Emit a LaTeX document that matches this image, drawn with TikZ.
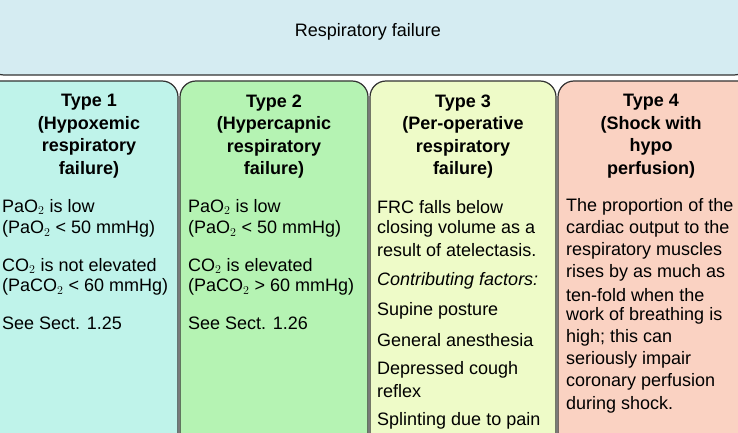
\documentclass[tikz,border=0pt]{standalone}
\usepackage{fontspec}
\setmainfont{Liberation Sans}
\definecolor{bann}{HTML}{D5ECF2}
\definecolor{c1}{HTML}{BFF3EA}
\definecolor{c2}{HTML}{B5F3B3}
\definecolor{c3}{HTML}{EEFBC8}
\definecolor{c4}{HTML}{FAD2C2}
\definecolor{edge}{HTML}{333333}
\begin{document}
\begin{tikzpicture}[x=1pt,y=-1pt,
  box/.style={draw=edge,line width=1.2pt,rounded corners=16pt},
  hd/.style={font=\fontsize{18}{22.5}\selectfont\bfseries,align=center,anchor=north},
  tx/.style={font=\fontsize{18}{20}\selectfont,anchor=west,inner sep=0pt}]
\useasboundingbox (0,0) rectangle (738,433);
\clip (0,0) rectangle (738,433);
\draw[box,fill=bann] (-12,-30) rectangle (750,75);
\node (rf) at (368,32) {\fontsize{18}{20}\selectfont Respiratory failure};
\draw[box,fill=c1] (-20,81) rectangle (178,460);
\draw[box,fill=c2] (180,81) rectangle (368,460);
\draw[box,fill=c3] (370,81) rectangle (556,460);
\draw[box,fill=c4] (558,81) rectangle (760,460);
\node[hd] (h1) at (89,91) {Type 1\\(Hypoxemic\\respiratory\\failure)};
\node[hd] (h2) at (274,91) {Type 2\\(Hypercapnic\\respiratory\\failure)};
\node[hd] (h3) at (463,91) {Type 3\\(Per-operative\\respiratory\\failure)};
\node[hd] (h4) at (651,91) {Type 4\\(Shock with\\hypo\\perfusion)};
% col1
\node[tx] (a1) at (2,207) {PaO$_2$ is low};
\node[tx] (a2) at (2,229) {(PaO$_2$ < 50 mmHg)};
\node[tx] (a3) at (2,266) {CO$_2$ is not elevated};
\node[tx] (a4) at (2,287) {(PaCO$_2$ < 60 mmHg)};
\node[tx] (a5) at (2,323) {See Sect. 1.25};
% col2
\node[tx] (b1) at (188,207) {PaO$_2$ is low};
\node[tx] (b2) at (188,229) {(PaO$_2$ < 50 mmHg)};
\node[tx] (b3) at (188,266) {CO$_2$ is elevated};
\node[tx] (b4) at (188,287) {(PaCO$_2$ > 60 mmHg)};
\node[tx] (b5) at (188,323) {See Sect. 1.26};
% col3
\node[tx] (c1n) at (377,207) {FRC falls below};
\node[tx] (c2n) at (377,229) {closing volume as a};
\node[tx] (c3n) at (377,250) {result of atelectasis.};
\node[tx] (c4n) at (377,281) {\itshape Contributing factors:};
\node[tx] (c5n) at (377,311) {Supine posture};
\node[tx] (c6n) at (377,340) {General anesthesia};
\node[tx] (c7n) at (377,370) {Depressed cough};
\node[tx] (c8n) at (377,391) {reflex};
\node[tx] (c9n) at (377,421) {Splinting due to pain};
% col4
\node[tx] (d1) at (566,207) {The proportion of the};
\node[tx] (d2) at (566,229) {cardiac output to the};
\node[tx] (d3) at (566,251) {respiratory muscles};
\node[tx] (d4) at (566,273) {rises by as much as};
\node[tx] (d5) at (566,295) {ten-fold when the};
\node[tx] (d6) at (566,316) {work of breathing is};
\node[tx] (d7) at (566,338) {high; this can};
\node[tx] (d8) at (566,360) {seriously impair};
\node[tx] (d9) at (566,382) {coronary perfusion};
\node[tx] (d10) at (566,405) {during shock.};
\end{tikzpicture}
\end{document}
